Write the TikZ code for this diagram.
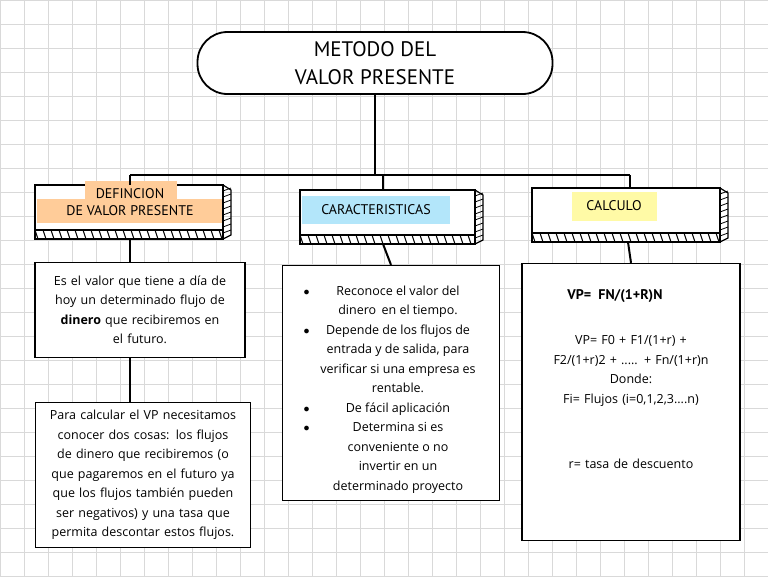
\documentclass[tikz,border=0pt]{standalone}
\usepackage{fontspec}
\setmainfont{Open Sans}
\newfontfamily\hand{PT Sans}
\begin{document}
\begin{tikzpicture}[x=1pt,y=-1pt,
  hdr/.style={draw=black,line width=1.6pt,fill=white},
  cbox/.style={draw=black,line width=1.3pt,fill=white},
  ln/.style={line width=2pt},
  txt/.style={font=\fontsize{12.5}{19.5}\selectfont,align=center,text width=#1}]
\useasboundingbox (0,0) rectangle (768,576);
\fill[white] (0,0) rectangle (768,576);
\foreach \i in {0,24,...,768}{\draw[black!15,line width=0.8pt] (\i,0) -- (\i,576);}
\foreach \i in {0,24,...,576}{\draw[black!15,line width=0.8pt] (0,\i) -- (768,\i);}
% title
\node[draw,line width=1.8pt,rounded corners=30,fill=white,minimum width=355,minimum height=62,font=\hand\fontsize{21}{28}\selectfont,align=center] (t) at (375,63) {METODO DEL\\VALOR PRESENTE};
\coordinate (j) at (375,175);
\draw[ln] (t.south) -- (j);
\coordinate (l1) at (130,175); \coordinate (l3) at (630,175);
\draw[ln] (l1) -- (l3);
% headers
\foreach \x/\y/\w in {35/185/188,300/190/175,532/188/188}{
  \draw[hdr] (\x,\y) rectangle ++(\w,45);
  \fill[white] (\x,\y+45) rectangle ++(\w,9);
  \draw[line width=1.2pt] (\x,\y+45) rectangle ++(\w,9);
  \foreach \k in {0,8,...,\w}{\draw[line width=1pt] (\x+\k,\y+45) -- (\x+\k+3,\y+54);}
  \draw[line width=1.2pt] (\x+\w,\y) -- (\x+\w+8,\y+5) -- (\x+\w+8,\y+50) -- (\x+\w,\y+54);
  \foreach \k in {6,12,...,48}{\draw[line width=0.8pt] (\x+\w,\y+\k) -- (\x+\w+8,\y+\k-3);}
}
\fill[orange!40] (85,181) rectangle (177,199);
\fill[orange!40] (37,199) rectangle (222,223);
\node[font=\hand\fontsize{14}{17}\selectfont,align=center] (h1) at (130,202) {DEFINCION\\DE VALOR PRESENTE};
\fill[cyan!30] (302,196) rectangle (450,224);
\node[font=\hand\fontsize{14}{17}\selectfont] (h2) at (376,210) {CARACTERISTICAS};
\fill[yellow!35] (572,192) rectangle (657,221);
\node[font=\hand\fontsize{14}{17}\selectfont] (h3) at (614,206) {CALCULO};
\draw[ln] (l1) -- (130,185);
\draw[ln] (383,175) -- (383,190);
\draw[ln] (l3) -- (630,188);
% content boxes
\node[cbox,minimum width=210,minimum height=95,txt=200] (b1) at (140,310) {Es el valor que tiene a día de\\ hoy un determinado flujo de\\ \textbf{dinero} que recibiremos en\\ el futuro.};
\node[cbox,minimum width=215,minimum height=145,txt=205] (b4) at (143,475) {Para calcular el VP necesitamos conocer dos cosas: los flujos de dinero que recibiremos (o que pagaremos en el futuro ya que los flujos también pueden ser negativos) y una tasa que permita descontar estos flujos.};
\node[cbox,minimum width=217,minimum height=235] (b2) at (391,383) {};
\node[font=\fontsize{12.5}{19.5}\selectfont,anchor=north] at (392,278) {%
\begin{tabular}{@{}l@{\hspace{6pt}}p{165pt}@{}}
$\bullet$ & \centering Reconoce el valor del\\ dinero\, en el tiempo.\tabularnewline
$\bullet$ & \centering Depende de los flujos de entrada y de salida, para verificar si una empresa es rentable.\tabularnewline
$\bullet$ & \centering De fácil aplicación\tabularnewline
$\bullet$ & \centering Determina si es\\ conveniente o no\\ invertir en un\\ determinado proyecto\tabularnewline
\end{tabular}};
\node[cbox,minimum width=218,minimum height=277] (b3) at (631,402) {};
\node[font=\hand\bfseries\fontsize{14}{17}\selectfont] at (615,296) {VP= \ FN/(1+R)N};
\node[txt=210] at (631,371) {VP= F0 + F1/(1+r) +\\ F2/(1+r)2 + ..... + Fn/(1+r)n\\ Donde:\\ Fi= Flujos (i=0,1,2,3....n)};
\node[txt=210] at (631,464) {r= tasa de descuento};
\draw[ln] (130,239) -- (b1.north -| h1);
\draw[ln] (383,244) -- (b2.north);
\draw[ln] (628,242) -- (b3.north);
\draw[ln] (b1.south -| h1) -- (b4.north -| h1);
\end{tikzpicture}
\end{document}
